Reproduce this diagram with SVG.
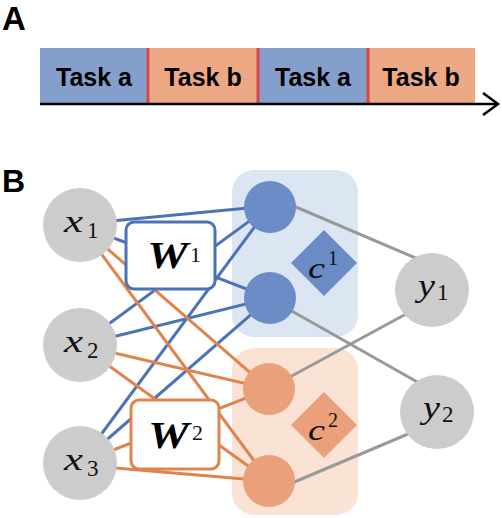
<svg xmlns="http://www.w3.org/2000/svg" width="502" height="518" viewBox="0 0 502 518">
<style>
.lbl{font-family:"Liberation Sans",Arial,sans-serif;font-weight:bold;fill:#000}
.task{font-family:"Liberation Sans",Arial,sans-serif;font-weight:bold;font-size:25px;fill:#000;text-anchor:middle}
.m{font-family:"Liberation Serif","Times New Roman",serif;font-style:italic;fill:#111}
.s{font-family:"Liberation Serif","Times New Roman",serif;fill:#111}
.wb{font-family:"Liberation Serif","Times New Roman",serif;font-style:italic;font-weight:bold;fill:#000}
.in{fill:#cccccc}
.bl{stroke:#4d73b7;stroke-width:3;fill:none}
.or{stroke:#e0834c;stroke-width:3;fill:none}
.gr{stroke:#999999;stroke-width:3;fill:none}
.div{stroke:#d9464a;stroke-width:3}
</style>
<g id="panelA">
<text class="lbl" x="2" y="30" font-size="33">A</text>
<rect x="40" y="48" width="108" height="55" fill="#859fcc"/>
<rect x="148" y="48" width="110" height="55" fill="#eca984"/>
<rect x="258" y="48" width="110" height="55" fill="#859fcc"/>
<rect x="368" y="48" width="107" height="55" fill="#eca984"/>
<line class="div" x1="148" y1="48" x2="148" y2="103"/>
<line class="div" x1="258" y1="48" x2="258" y2="103"/>
<line class="div" x1="368" y1="48" x2="368" y2="103"/>
<text class="task" x="94" y="86">Task a</text>
<text class="task" x="203" y="86">Task b</text>
<text class="task" x="313" y="86">Task a</text>
<text class="task" x="421" y="86">Task b</text>
<line x1="40" y1="104" x2="497" y2="104" stroke="#000" stroke-width="2.5"/>
<polyline points="483,93 498,104 483,115" fill="none" stroke="#000" stroke-width="2.5" stroke-linejoin="miter"/>
</g>
<text class="lbl" x="2" y="192" font-size="32">B</text>
<g id="hiddenBoxes">
<rect id="group1" x="232" y="170" width="126" height="167" rx="22" fill="#dce5f2"/>
<rect id="group2" x="232" y="348" width="126" height="167" rx="22" fill="#fae3d5"/>
</g>
<g id="connectors">
<line class="bl" x1="80" y1="224" x2="270" y2="206"/>
<line class="bl" x1="80" y1="225" x2="270" y2="298"/>
<line class="bl" x1="80" y1="345" x2="270" y2="206"/>
<line class="bl" x1="80" y1="345" x2="270" y2="298"/>
<line class="bl" x1="80" y1="463" x2="270" y2="206"/>
<line class="bl" x1="80" y1="463" x2="270" y2="298"/>
<line class="or" x1="80" y1="225" x2="269" y2="389"/>
<line class="or" x1="80" y1="225" x2="269" y2="481"/>
<line class="or" x1="80" y1="345" x2="269" y2="389"/>
<line class="or" x1="80" y1="345" x2="269" y2="481"/>
<line class="or" x1="80" y1="463" x2="269" y2="389"/>
<line class="or" x1="80" y1="465" x2="269" y2="481"/>
<line class="gr" x1="290" y1="204.5" x2="418" y2="259"/>
<line class="gr" x1="290" y1="310" x2="420" y2="383.5"/>
<line class="gr" x1="288" y1="378" x2="407" y2="313.5"/>
<line class="gr" x1="292" y1="483" x2="408" y2="434"/>
</g>
<g id="W1">
<rect x="126" y="222" width="89" height="67" rx="8" fill="#fff" stroke="#4d73b7" stroke-width="3"/>
<text class="wb" x="147" y="268" font-size="38" textLength="41" lengthAdjust="spacingAndGlyphs">W</text>
<text class="s" x="190" y="262" font-size="22">1</text>
</g>
<g id="W2">
<rect x="131" y="400" width="88" height="69" rx="8" fill="#fff" stroke="#e0834c" stroke-width="3"/>
<text class="wb" x="148" y="448" font-size="38" textLength="41" lengthAdjust="spacingAndGlyphs">W</text>
<text class="s" x="192" y="440" font-size="22">2</text>
</g>
<g id="x1">
<circle class="in" cx="80" cy="225" r="37"/>
<text class="m" x="64" y="232" font-size="31" textLength="19" lengthAdjust="spacingAndGlyphs">x</text>
<text class="s" x="87" y="238" font-size="23">1</text>
</g>
<g id="x2">
<circle class="in" cx="80" cy="345" r="37"/>
<text class="m" x="64" y="352" font-size="31" textLength="19" lengthAdjust="spacingAndGlyphs">x</text>
<text class="s" x="87" y="358" font-size="23">2</text>
</g>
<g id="x3">
<circle class="in" cx="80" cy="463" r="37"/>
<text class="m" x="64" y="470" font-size="31" textLength="19" lengthAdjust="spacingAndGlyphs">x</text>
<text class="s" x="87" y="476" font-size="23">3</text>
</g>
<g id="h1"><circle cx="270" cy="207" r="26" fill="#6b8cc6"/></g>
<g id="h2"><circle cx="270" cy="298" r="26" fill="#6b8cc6"/></g>
<g id="h3"><circle cx="269" cy="389" r="26" fill="#eaa07a"/></g>
<g id="h4"><circle cx="269" cy="481" r="26" fill="#eaa07a"/></g>
<g id="c1">
<polygon points="324,230 357,263 324,296 291,263" fill="#6a8bc5"/>
<text class="m" x="308" y="278" font-size="30" textLength="17" lengthAdjust="spacingAndGlyphs">c</text>
<text class="s" x="328" y="265" font-size="20">1</text>
</g>
<g id="c2">
<polygon points="324,392 357,425 324,458 291,425" fill="#eaa07a"/>
<text class="m" x="308" y="440" font-size="30" textLength="17" lengthAdjust="spacingAndGlyphs">c</text>
<text class="s" x="328" y="427" font-size="20">2</text>
</g>
<g id="y1">
<circle class="in" cx="432" cy="290" r="37"/>
<text class="m" x="418" y="296" font-size="31" textLength="17" lengthAdjust="spacingAndGlyphs">y</text>
<text class="s" x="437" y="300" font-size="23">1</text>
</g>
<g id="y2">
<circle class="in" cx="437" cy="412" r="37"/>
<text class="m" x="423" y="418" font-size="31" textLength="17" lengthAdjust="spacingAndGlyphs">y</text>
<text class="s" x="442" y="422" font-size="23">2</text>
</g>
</svg>
